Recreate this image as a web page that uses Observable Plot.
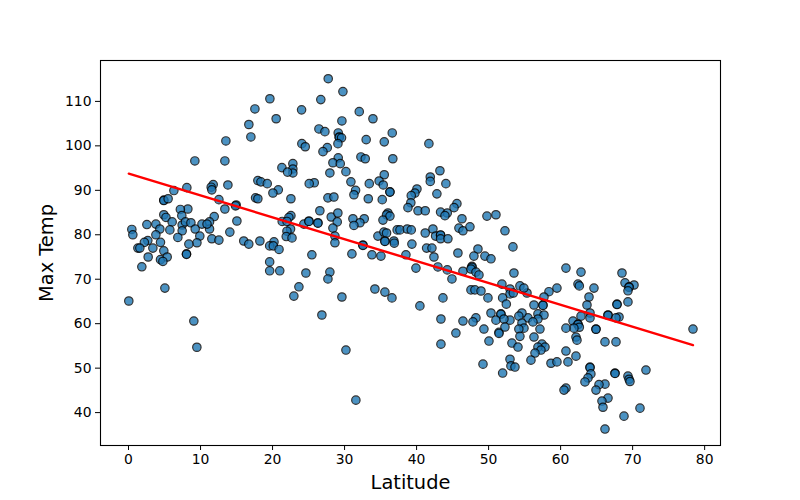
<!DOCTYPE html>
<html><head><meta charset="utf-8">
<style>html,body{margin:0;padding:0;background:#fff}svg{display:block}</style>
<script src="https://cdn.jsdelivr.net/npm/d3@7"></script>
<script src="https://cdn.jsdelivr.net/npm/@observablehq/plot@0.6"></script>
</head><body><div id="chart"></div>
<script>
const latitude = [
19.63,17.55,24.03,20.5,16.71,16.99,24.07,24.54,13.52,9.21,13.38,21.3,22.82,22.82,22.82,22.08,17.96,18.38,19.26,
13.8,11.76,11.48,11.57,8.1,6.3,20.8,20.05,22.55,17.64,17.96,4.9,4.9,5.5,12.55,13.38,14.95,14.86,8.24,7.2,
4.9,5.2,7.4,11.9,22.55,22.27,21.34,22.0,15.05,6.06,7.45,7.9,8.66,2.55,3.8,4.35,0.46,0.6,5.74,7.45,
9.26,10.2,11.25,11.25,10.9,14.07,24.35,22.5,22.0,21.9,22.7,16.0,16.7,18.24,20.2,19.6,20.1,20.9,6.85,
9.9,11.57,12.55,9.5,8.38,4.44,3.8,2.68,2.2,3.38,1.3,1.57,4.9,2.73,8.05,8.05,4.44,5.37,4.77,1.85,
5.05,0.04,9.07,9.49,19.6,19.6,21.0,24.63,23.66,22.96,
27.73,29.77,26.7,32.04,33.94,29.63,26.44,27.27,29.12,36.62,29.26,29.26,29.58,33.0,35.51,29.08,41.71,27.6,27.0,32.27,
32.87,36.7,29.12,28.38,29.4,30.19,27.96,43.24,41.9,41.9,35.51,34.8,30.88,33.43,35.37,44.07,25.79,25.09,40.05,31.53,
39.77,31.3,39.26,42.82,36.3,36.3,27.69,28.52,33.29,35.23,39.2,38.8,45.6,45.2,40.2,41.2,43.33,44.26,43.94,26.57,
28.15,29.07,36.02,35.83,36.3,35.33,31.16,32.73,32.13,31.3,28.98,28.38,25.05,25.05,26.3,26.3,46.3,49.77,51.02,45.88,
46.44,47.41,52.27,42.27,41.2,42.64,43.33,43.33,43.33,44.35,37.3,37.69,38.7,39.26,34.63,35.46,35.83,35.6,35.6,36.85,
36.9,39.35,41.39,42.13,42.41,45.74,28.66,28.66,32.55,32.55,48.52,47.96,49.49,50.33,25.46,31.02,33.8,35.05,38.52,
39.91,42.96,44.26,46.44,47.69,47.69,47.55,48.24,48.66,44.91,27.96,27.69,34.21,35.6,36.58,29.63,26.85,40.46,43.66,
47.55,48.1,48.94,49.91,43.38,50.33,51.71,51.71,51.02,48.24,47.83,46.44,49.35,45.46,51.44,
51.44,50.05,43.38,30.19,49.22,31.57,
53.38,53.52,60.74,62.83,68.52,62.41,62.6,68.94,70.19,69.5,69.5,69.35,64.63,59.49,58.38,57.69,63.94,55.33,54.35,54.9,
52.97,51.85,52.97,53.43,51.95,52.46,56.3,57.55,57.55,63.66,67.83,67.83,69.35,64.08,62.83,64.08,66.58,66.58,68.11,67.69,
56.85,57.69,56.85,55.47,54.63,54.2,54.63,56.16,52.97,52.13,61.72,62.41,62.41,62.6,61.85,60.74,64.91,64.91,52.27,
54.91,54.2,57.13,54.35,56.3,62.13,62.27,66.16,67.69,53.24,54.08,57.41,57.83,56.85,57.27,56.44,60.74,62.13,55.88,
52.97,53.1,53.66,51.95,58.66,59.49,61.02,64.08,64.08,64.2,63.8,63.38,67.55,67.55,71.85,69.35,69.5,69.63,66.16,65.33,
64.91,60.74,60.47,66.58,65.74,65.88,71.02,68.8,66.16,78.38
];
const maxTemp = [
110.6,108.3,108.1,106.1,104.8,102.0,100.5,99.8,101.1,96.6,96.6,95.1,96.0,94.8,93.9,94.1,92.2,91.9,91.5,
91.2,91.3,90.7,90.1,90.6,89.95,90.1,89.4,88.1,88.3,88.1,87.8,87.7,88.1,87.9,85.8,86.7,86.5,85.8,85.7,
84.5,83.9,84.3,84.1,84.3,83.9,83.0,83.0,83.1,82.9,82.2,82.9,82.7,82.3,82.4,81.3,81.2,80.0,81.1,80.9,
81.3,82.4,82.9,81.3,82.4,80.6,82.4,81.3,80.8,79.6,79.3,78.6,77.9,78.6,78.4,77.5,77.5,76.7,79.4,
79.7,79.1,78.8,78.2,77.9,78.3,80.0,78.7,78.3,77.0,77.0,77.0,76.4,75.0,75.7,75.6,74.4,75.0,74.0,72.8,
68.0,65.1,60.6,54.7,73.9,71.9,71.9,71.4,68.3,66.2,
115.1,112.2,110.4,107.7,106.1,105.6,103.8,103.2,102.9,102.9,102.0,101.9,101.8,101.4,100.9,100.5,100.5,99.6,98.7,97.5,
97.1,97.1,97.3,96.2,96.0,94.2,93.9,94.4,93.0,92.0,93.5,92.1,91.9,91.5,91.2,91.5,91.7,91.5,90.3,90.0,
89.4,89.0,88.8,89.2,89.65,89.6,88.3,88.5,88.1,87.9,87.2,86.1,87.0,86.1,85.4,85.4,85.1,84.9,84.3,85.4,
84.0,84.9,84.9,84.5,84.2,83.3,83.6,83.6,82.7,82.1,82.9,81.5,83.1,83.0,82.7,82.6,83.6,84.2,84.5,81.5,
80.9,81.8,80.9,81.3,80.4,79.7,79.96,79.9,79.1,79.1,81.1,81.1,81.3,81.1,79.7,80.6,80.4,78.6,78.5,78.6,
78.1,77.9,77.0,77.0,75.0,75.9,79.7,78.2,77.7,77.6,76.8,75.2,75.2,74.6,75.5,75.7,75.5,75.2,75.5,
72.5,72.76,72.1,71.8,72.9,72.7,72.3,71.6,70.96,70.06,71.6,70.06,67.8,67.1,65.8,66.0,61.95,64.0,65.8,
67.6,67.6,67.35,65.8,61.05,62.4,62.2,62.1,60.8,61.3,60.4,60.6,58.8,57.9,58.05,
57.8,56.1,55.4,54.07,50.9,42.8,
77.27,71.4,72.5,71.6,71.4,68.9,68.5,69.2,68.7,68.3,68.2,67.4,68.0,68.0,67.2,66.0,66.0,66.9,68.5,68.0,
67.8,68.9,66.7,66.9,65.8,64.4,64.2,64.2,64.1,64.2,64.4,64.3,64.9,62.4,61.7,61.3,61.95,61.9,61.5,61.3,
62.2,61.95,61.05,61.3,62.4,61.7,60.15,60.4,60.8,61.05,60.6,59.9,59.8,59.2,59.0,59.0,58.8,58.75,59.25,
59.0,58.8,58.8,57.15,57.0,57.0,56.3,55.9,55.9,55.65,54.75,55.4,54.75,54.75,54.07,53.4,53.85,52.7,51.8,
52.0,50.5,50.25,48.9,51.1,51.4,51.4,50.25,50.1,48.7,47.8,46.9,48.9,48.8,49.57,48.2,47.5,47.0,46.4,46.3,
45.06,45.5,45.06,43.26,42.6,41.2,41.0,39.2,36.3,58.8
];
const lineLat = [0.04, 78.38];
const lineTemp = [93.75, 55.2];
const xTicks = [0,10,20,30,40,50,60,70,80];
const yTicks = [40,50,60,70,80,90,100,110];

const n = Math.min(latitude.length, maxTemp.length);
const points = d3.range(n).map(i => ({lat: latitude[i], temp: maxTemp[i]}));
const fit = lineLat.map((lat, i) => ({lat, temp: lineTemp[i]}));

const chart = Plot.plot({
  width: 800, height: 500,
  marginTop: 60, marginBottom: 55, marginLeft: 100, marginRight: 80,
  style: {fontFamily: "'DejaVu Sans', sans-serif", background: "#fff", color: "black", overflow: "visible"},
  x: {domain: [-3.89, 82.2], label: null},
  y: {domain: [32.6, 119.2], label: null},
  marks: [
    Plot.dot(points, {x: "lat", y: "temp", r: 4.2, fill: "#1f77b4", stroke: "black", strokeWidth: 1.2, opacity: 0.8}),
    Plot.line(fit, {x: "lat", y: "temp", stroke: "red", strokeWidth: 2.4}),
    Plot.frame({stroke: "black", strokeWidth: 1.1}),
    Plot.axisX({ticks: xTicks, tickSize: 5, tickPadding: 4, fontSize: 13.9, label: null, tickFormat: d => String(d)}),
    Plot.axisY({ticks: yTicks, tickSize: 5, tickPadding: 4, fontSize: 13.9, label: null, tickFormat: d => String(d)}),
    Plot.text(["Latitude"], {frameAnchor: "bottom", dy: 43, fontSize: 19.4, fill: "black"}),
    Plot.text(["Max Temp"], {frameAnchor: "left", textAnchor: "middle", rotate: -90, dx: -54, fontSize: 19.4, fill: "black"})
  ]
});
document.getElementById("chart").append(chart);
</script></body></html>
